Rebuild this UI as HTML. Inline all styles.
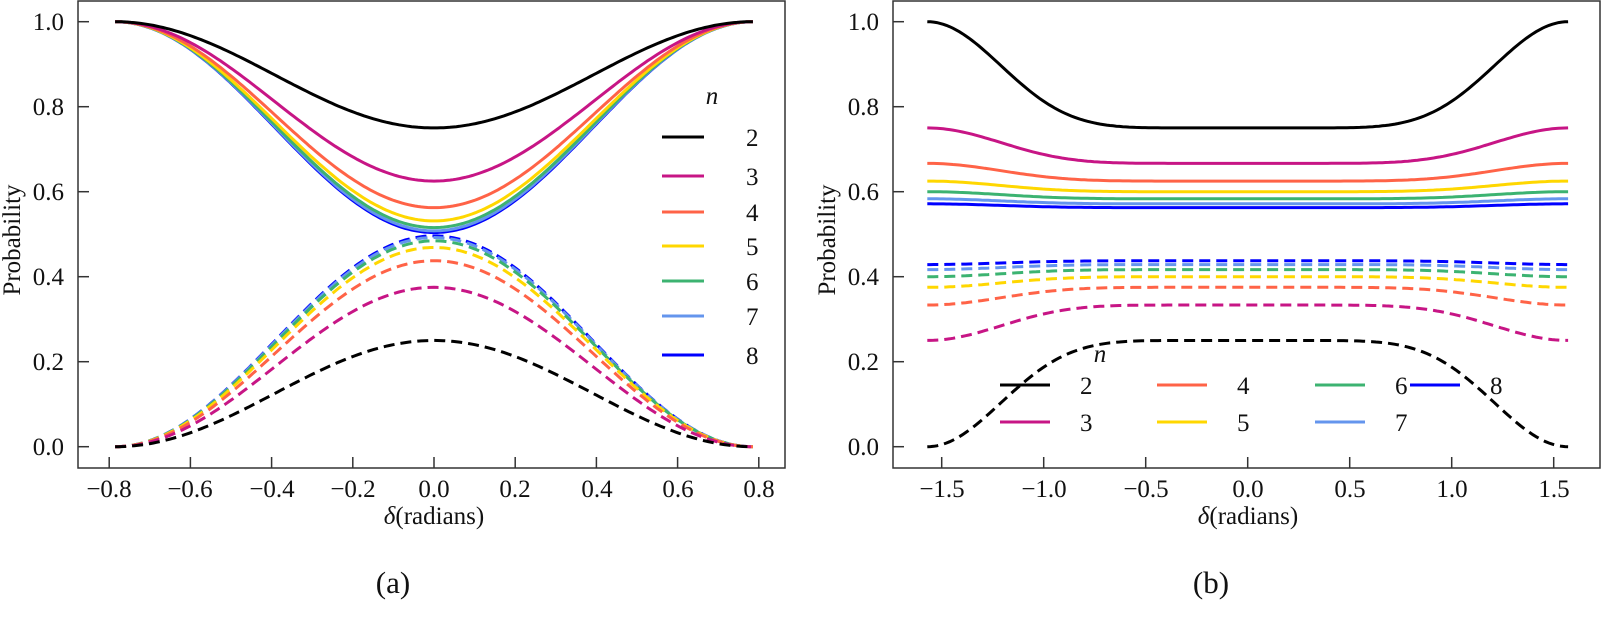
<!DOCTYPE html>
<html><head><meta charset="utf-8"><style>
body{margin:0;background:#fff;}
svg text{font-family:"Liberation Serif","DejaVu Serif",serif;fill:#111;}
</style></head><body>
<svg id="s" width="1601" height="613" viewBox="0 0 1601 613" xmlns="http://www.w3.org/2000/svg">
<rect x="78" y="1" width="707" height="467" fill="none" stroke="#333" stroke-width="1.5"/>
<rect x="893" y="1" width="707" height="467" fill="none" stroke="#333" stroke-width="1.5"/>
<g id="g"></g>
<g font-size="25" text-anchor="end">
<text x="64" y="30">1.0</text><text x="64" y="115">0.8</text><text x="64" y="200">0.6</text><text x="64" y="285">0.4</text><text x="64" y="370">0.2</text><text x="64" y="455">0.0</text>
<text x="879" y="30">1.0</text><text x="879" y="115">0.8</text><text x="879" y="200">0.6</text><text x="879" y="285">0.4</text><text x="879" y="370">0.2</text><text x="879" y="455">0.0</text>
</g>
<g font-size="25" text-anchor="middle">
<text x="109" y="497">−0.8</text><text x="190" y="497">−0.6</text><text x="272" y="497">−0.4</text><text x="353" y="497">−0.2</text><text x="434" y="497">0.0</text><text x="515" y="497">0.2</text><text x="597" y="497">0.4</text><text x="678" y="497">0.6</text><text x="759" y="497">0.8</text>
<text x="942" y="497">−1.5</text><text x="1044" y="497">−1.0</text><text x="1146" y="497">−0.5</text><text x="1248" y="497">0.0</text><text x="1350" y="497">0.5</text><text x="1452" y="497">1.0</text><text x="1554" y="497">1.5</text>
<text x="434" y="524"><tspan font-style="italic">δ</tspan>(radians)</text>
<text x="1248" y="524"><tspan font-style="italic">δ</tspan>(radians)</text>
<text x="393" y="593" font-size="31">(a)</text>
<text x="1211" y="593" font-size="31">(b)</text>
<text transform="translate(20,240) rotate(-90)">Probability</text>
<text transform="translate(835,240) rotate(-90)">Probability</text>
<text x="712" y="104" font-style="italic">n</text>
<text x="1100" y="362" font-style="italic">n</text>
</g>
<g font-size="25" id="lg"></g>
</svg>
<script>
const cols=["#000000","#c71585","#ff6347","#ffd700","#3cb371","#6495ed","#0000ff"];
const g=document.getElementById('g'),lg=document.getElementById('lg');
function Y(v){return 446.7-v*425;}
function path(pts,c,dash){const p=document.createElementNS("http://www.w3.org/2000/svg","path");
p.setAttribute("d","M"+pts.map(q=>q[0].toFixed(1)+","+q[1].toFixed(1)).join("L"));
p.setAttribute("fill","none");p.setAttribute("stroke",c);p.setAttribute("stroke-width","3");
if(dash)p.setAttribute("stroke-dasharray","11,6");g.appendChild(p);}
function line(x1,y1,x2,y2,c,w){const p=document.createElementNS("http://www.w3.org/2000/svg","line");
p.setAttribute("x1",x1);p.setAttribute("y1",y1);p.setAttribute("x2",x2);p.setAttribute("y2",y2);p.setAttribute("stroke",c);p.setAttribute("stroke-width",w);g.appendChild(p);}
[21.7,106.7,191.7,276.7,361.7,446.7].forEach(y=>{line(78,y,89,y,"#333",1.5);line(893,y,904,y,"#333",1.5);});
for(let i=-4;i<=4;i++){const x=434+i*0.2*406;line(x,468,x,457,"#333",1.5);}
for(let i=-3;i<=3;i++){const x=1247.7+i*0.5*204;line(x,468,x,457,"#333",1.5);}
for(let k=6;k>=0;k--){const n=k+2;
 let s=[],d=[];
 for(let i=0;i<=200;i++){const t=-Math.PI/4+i*(Math.PI/2)/200;
  const f=Math.pow(Math.cos(2*t),2)*(0.5-Math.pow(2,-n));
  const x=434+t*406; s.push([x,Y(1-f)]);d.push([x,Y(f)]);}
 path(s,cols[k],false);path(d,cols[k],true);
 let s2=[],d2=[];const a=n/(2*(n-1)),b=(n+1)/(2*n);
 for(let i=0;i<=200;i++){const t=-Math.PI/2+i*Math.PI/200;
  const w=Math.pow(Math.sin(t),8);const v=b+(a-b)*w;
  const x=1247.7+t*204; s2.push([x,Y(v)]);d2.push([x,Y(1-v)]);}
 path(s2,cols[k],false);path(d2,cols[k],true);
}
const ly=[137,176,212,246,281,316,355];
for(let k=0;k<7;k++){line(662,ly[k],704,ly[k],cols[k],3);
 const t=document.createElementNS("http://www.w3.org/2000/svg","text");t.setAttribute("x",746);t.setAttribute("y",ly[k]+9);t.textContent=k+2;lg.appendChild(t);}
const cx=[1000,1000,1157,1157,1315,1315,1410],cy=[385,422,385,422,385,422,385];
for(let k=0;k<7;k++){line(cx[k],cy[k],cx[k]+50,cy[k],cols[k],3);
 const t=document.createElementNS("http://www.w3.org/2000/svg","text");t.setAttribute("x",cx[k]+80);t.setAttribute("y",cy[k]+9);t.textContent=k+2;lg.appendChild(t);}
</script>
</body></html>
